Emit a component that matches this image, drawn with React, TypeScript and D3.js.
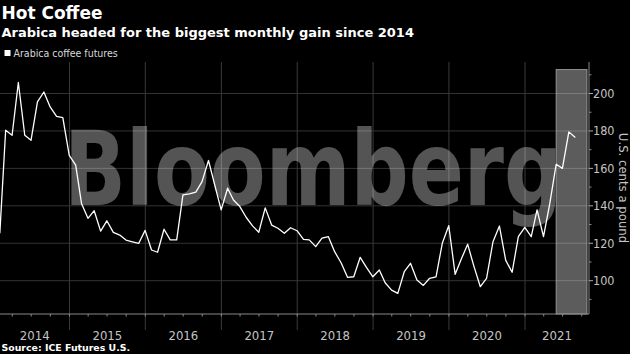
import React from "react";
import * as d3 from "d3";

const W = 630;
const H = 354;

const TITLE = "Hot Coffee";
const SUBTITLE = "Arabica headed for the biggest monthly gain since 2014";
const SERIES_NAME = "Arabica coffee futures";
const SOURCE = "Source: ICE Futures U.S.";
const Y_TITLE = "U.S. cents a pound";
const WATERMARK = "Bloomberg";

// Monthly closes (month-end), starting January 2014
const FIRST_YEAR = 2014;
const prices = [
  125.3, 180.4, 177.7, 205.9, 177.7, 175.0, 195.5, 200.8, 192.8, 187.8, 187.1, 167.0,
  161.7, 141.3, 133.3, 137.4, 126.5, 132.0, 125.8, 124.4, 121.7, 120.8, 119.9, 126.9,
  116.4, 115.2, 127.5, 121.8, 121.8, 145.8, 146.4, 147.3, 152.9, 164.2, 151.2, 137.8,
  149.4, 143.1, 139.6, 133.9, 129.3, 125.9, 138.9, 129.7, 128.0, 125.3, 128.3, 126.7,
  122.1, 121.8, 118.2, 122.7, 123.5, 115.5, 109.6, 101.8, 102.1, 112.5, 107.1, 102.1,
  105.7, 98.9, 95.0, 93.2, 104.8, 109.3, 100.4, 97.5, 101.3, 102.1, 120.0, 129.4,
  103.4, 111.4, 119.5, 107.8, 96.8, 101.3, 120.8, 129.2, 111.0, 104.5, 123.5, 128.5,
  123.5, 137.8, 123.5, 141.0, 162.2, 160.0, 179.5, 176.5,
];

const yearLabels = ["2014", "2015", "2016", "2017", "2018", "2019", "2020", "2021"];
const yTicks = [100, 120, 140, 160, 180, 200];
const yMinorTicks = [90, 110, 130, 150, 170, 190, 210];
const highlightStartMonth = [2021, 4]; // May 2021 (month-end)

const PLOT = { left: 0, right: 589, top: 62, bottom: 314 };

const AXIS_FONT = "'Liberation Sans Narrow', 'DejaVu Sans Condensed', 'Liberation Sans', sans-serif";
const TITLE_FONT = "'DejaVu Sans', Verdana, sans-serif";

export default function App() {
  const dates = prices.map((_, i) => new Date(FIRST_YEAR, i + 1, 0));
  const data = prices.map((v, i) => ({ d: dates[i], v }));

  const x = d3
    .scaleTime()
    .domain([new Date(2014, 0, 1), new Date(2021, 0, 1)])
    .range([-6.4, 525]);
  const y = d3.scaleLinear().domain([100, 200]).range([280.7, 93.5]);

  const line = d3
    .line<{ d: Date; v: number }>()
    .x((p) => x(p.d))
    .y((p) => y(p.v));

  const yearStarts = yearLabels.map((yl) => new Date(+yl, 0, 1));
  const yearBounds = yearLabels.map((yl) => {
    const s = Math.max(x(new Date(+yl, 0, 1)), PLOT.left);
    const e = Math.min(x(new Date(+yl + 1, 0, 1)), PLOT.right);
    return { label: yl, c: (s + e) / 2 };
  });

  const quarterTicks = d3
    .timeMonth
    .every(3)!
    .range(new Date(2014, 0, 1), new Date(2022, 0, 1))
    .map((d) => x(d))
    .filter((px) => px > PLOT.left && px < PLOT.right);

  const hlX0 = x(new Date(highlightStartMonth[0], highlightStartMonth[1] + 1, 0));
  const hlX1 = PLOT.right - 2;
  const hlY0 = y(212.8);

  return (
    <div style={{ position: "absolute", left: 0, top: 0, width: W, height: H, background: "#000" }}>
      <svg width={W} height={H} style={{ display: "block", background: "#000" }}>
        <defs>
          <clipPath id="plotclip">
            <rect x={PLOT.left} y={PLOT.top} width={PLOT.right - PLOT.left} height={PLOT.bottom - PLOT.top} />
          </clipPath>
        </defs>

        {/* horizontal gridlines */}
        {yTicks.map((t) => (
          <line key={"hg" + t} x1={PLOT.left} x2={PLOT.right} y1={y(t)} y2={y(t)} stroke="#333" strokeWidth={1} />
        ))}
        {/* year gridlines */}
        {yearStarts.slice(1).map((d, i) => (
          <line key={"vg" + i} x1={x(d)} x2={x(d)} y1={PLOT.top} y2={330} stroke="#3a3a3a" strokeWidth={1} />
        ))}

        {/* watermark */}
        <text
          transform="translate(64, 205) scale(0.79, 1)"
          fontFamily="'DejaVu Sans', sans-serif"
          fontWeight="bold"
          fontSize={103}
          fill="#fff"
          fillOpacity={0.33}
        >
          {WATERMARK}
        </text>

        {/* highlight box */}
        <rect
          x={hlX0}
          y={hlY0}
          width={hlX1 - hlX0}
          height={PLOT.bottom - hlY0}
          fill="#fff"
          fillOpacity={0.36}
          stroke="#aaa"
          strokeOpacity={0.8}
          strokeWidth={1}
        />

        {/* series line */}
        <g clipPath="url(#plotclip)">
          <path d={line(data) || ""} fill="none" stroke="#fff" strokeWidth={1.3} strokeLinejoin="round" />
        </g>

        {/* bottom axis */}
        <line x1={PLOT.left} x2={PLOT.right} y1={PLOT.bottom} y2={PLOT.bottom} stroke="#888" strokeWidth={1} />
        {quarterTicks.map((px, i) => (
          <line key={"qt" + i} x1={px} x2={px} y1={PLOT.bottom} y2={PLOT.bottom + 2.5} stroke="#888" strokeWidth={1} />
        ))}
        {yearBounds.map((b) => (
          <text
            key={"yl" + b.label}
            x={b.c}
            y={339.5}
            textAnchor="middle"
            fontFamily={AXIS_FONT}
            fontSize={13}
            fill="#c4c4c4"
          >
            {b.label}
          </text>
        ))}

        {/* right axis */}
        <line x1={PLOT.right} x2={PLOT.right} y1={PLOT.top} y2={PLOT.bottom} stroke="#888" strokeWidth={1} />
        {yMinorTicks.map((t) => (
          <line key={"mt" + t} x1={PLOT.right} x2={PLOT.right + 2.5} y1={y(t)} y2={y(t)} stroke="#888" strokeWidth={1} />
        ))}
        {yTicks.map((t) => (
          <g key={"yt" + t}>
            <line x1={PLOT.right} x2={PLOT.right + 4} y1={y(t)} y2={y(t)} stroke="#aaa" strokeWidth={1} />
            <text
              x={PLOT.right + 4}
              y={y(t)}
              dy="0.36em"
              fontFamily={AXIS_FONT}
              fontSize={12.5}
              fill="#c4c4c4"
            >
              {t}
            </text>
          </g>
        ))}
        <text
          transform={`translate(619, 188) rotate(90)`}
          textAnchor="middle"
          fontFamily={AXIS_FONT}
          fontSize={13}
          fill="#c4c4c4"
        >
          {Y_TITLE}
        </text>

        {/* titles */}
        <text x={1.5} y={19} fontFamily={TITLE_FONT} fontWeight="bold" fontSize={17} fill="#fff">
          {TITLE}
        </text>
        <text x={1.5} y={36.5} fontFamily={TITLE_FONT} fontWeight="bold" fontSize={13} fill="#fff">
          {SUBTITLE}
        </text>

        {/* legend */}
        <rect x={4.5} y={50} width={6} height={6} fill="#fff" />
        <text x={13.5} y={56.5} fontFamily={AXIS_FONT} fontSize={10.5} fill="#d8d8d8">
          {SERIES_NAME}
        </text>

        {/* source */}
        <text x={1.5} y={351} fontFamily={TITLE_FONT} fontWeight="bold" fontSize={9.4} fill="#fff">
          {SOURCE}
        </text>
      </svg>
    </div>
  );
}
